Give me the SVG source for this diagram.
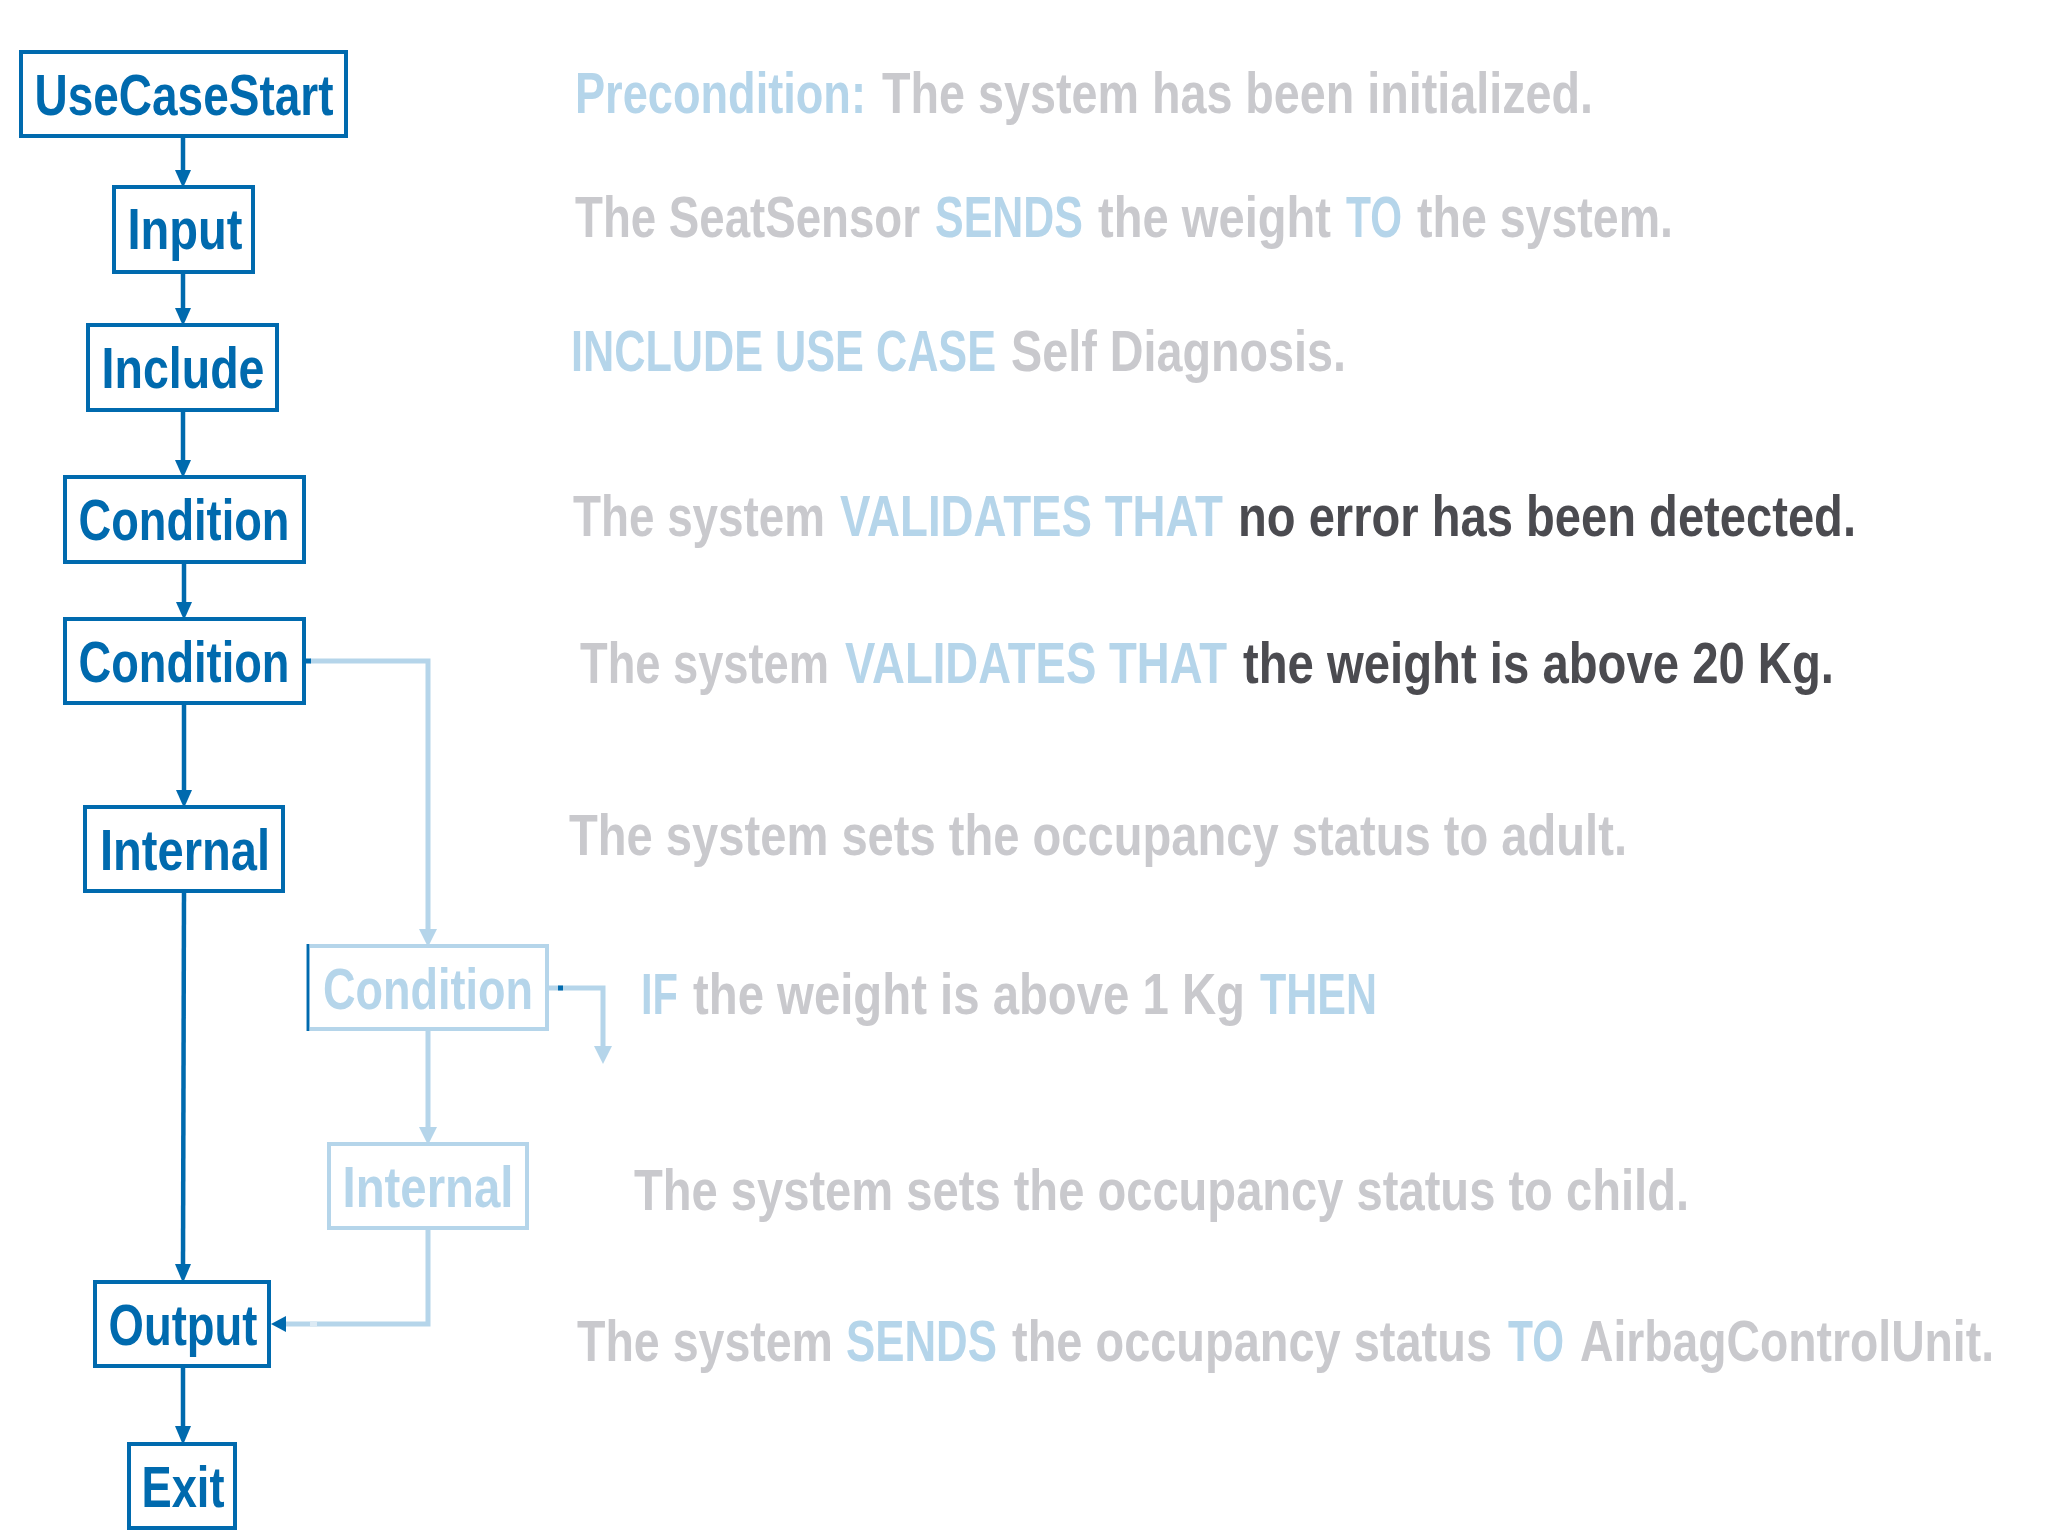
<svg xmlns="http://www.w3.org/2000/svg" width="2048" height="1536" viewBox="0 0 2048 1536">
<style>
text{font-family:"Liberation Sans",Arial,sans-serif;font-weight:bold;font-size:40px}
.nd rect{fill:#fff;stroke:#006aae;stroke-width:4}
.nd text{fill:#006aae;text-anchor:middle}
.lt rect{fill:#fff;stroke:#b5d5ea;stroke-width:4}
.lt text{fill:#b5d5ea;text-anchor:middle}
.dk{stroke:#006aae;stroke-width:4.5;fill:none}
.lc{stroke:#b5d5ea;stroke-width:5;fill:none}
.ah{fill:#006aae}
.lh{fill:#b5d5ea}
.g{fill:#c9c9cd}
.b{fill:#b5d5ea}
.k{fill:#4b4b50}
</style>
<rect width="2048" height="1536" fill="#fff"/>
<g id="connectors">
<path class="dk" d="M183 136V172"/><polygon class="ah" points="175,170 191,170 183,188"/>
<path class="dk" d="M183 272V310"/><polygon class="ah" points="175,308 191,308 183,326"/>
<path class="dk" d="M183 410V462"/><polygon class="ah" points="175,460 191,460 183,478"/>
<path class="dk" d="M184 562V604"/><polygon class="ah" points="176,602 192,602 184,620"/>
<path class="dk" d="M184 704V792"/><polygon class="ah" points="176,790 192,790 184,808"/>
<path class="dk" d="M184 891L183 1266"/><polygon class="ah" points="175,1264 191,1264 183,1283"/>
<path class="dk" d="M183 1366V1428"/><polygon class="ah" points="175,1426 191,1426 183,1445"/>
<path class="lc" d="M310 661H428V930"/><polygon class="lh" points="419,929 437,929 428,947"/>
<path d="M303 661H311" stroke="#006aae" stroke-width="5"/>
<path class="lc" d="M428 1030V1128"/><polygon class="lh" points="419,1127 437,1127 428,1145"/>
<path class="lc" d="M428 1228V1324H284"/>
<path d="M310 1324H317" stroke="#dceaf4" stroke-width="5"/>
<polygon class="ah" points="271,1324 286,1316 286,1332"/>
<path class="lc" d="M549 988H603V1047"/><polygon class="lh" points="594,1046 612,1046 603,1064"/>
<path d="M558 988H563" stroke="#006aae" stroke-width="5"/>
</g>
<g id="n_usecasestart" class="nd"><rect x="21" y="52" width="325" height="84"/><text transform="translate(184,115) scale(1,1.45)" textLength="299" lengthAdjust="spacingAndGlyphs">UseCaseStart</text></g>
<g id="n_input" class="nd"><rect x="114" y="187" width="139" height="85"/><text transform="translate(185,249) scale(1,1.45)" textLength="115" lengthAdjust="spacingAndGlyphs">Input</text></g>
<g id="n_include" class="nd"><rect x="88" y="325" width="189" height="85"/><text transform="translate(183,388) scale(1,1.45)" textLength="163" lengthAdjust="spacingAndGlyphs">Include</text></g>
<g id="n_condition1" class="nd"><rect x="65" y="477" width="239" height="85"/><text transform="translate(184,540) scale(1,1.45)" textLength="211" lengthAdjust="spacingAndGlyphs">Condition</text></g>
<g id="n_condition2" class="nd"><rect x="65" y="619" width="239" height="84"/><text transform="translate(184,682) scale(1,1.45)" textLength="211" lengthAdjust="spacingAndGlyphs">Condition</text></g>
<g id="n_internal" class="nd"><rect x="85" y="807" width="198" height="84"/><text transform="translate(185,870) scale(1,1.45)" textLength="170" lengthAdjust="spacingAndGlyphs">Internal</text></g>
<g id="n_condition3" class="lt"><rect x="308" y="946" width="239" height="83"/><text transform="translate(428,1009) scale(1,1.45)" textLength="210" lengthAdjust="spacingAndGlyphs">Condition</text><path d="M308 944V1031" stroke="#006aae" stroke-width="2.5"/></g>
<g id="n_internal2" class="lt"><rect x="329" y="1144" width="198" height="84"/><text transform="translate(428,1207) scale(1,1.45)" textLength="171" lengthAdjust="spacingAndGlyphs">Internal</text></g>
<g id="n_output" class="nd"><rect x="95" y="1282" width="174" height="84"/><text transform="translate(183,1345) scale(1,1.45)" textLength="149" lengthAdjust="spacingAndGlyphs">Output</text></g>
<g id="n_exit" class="nd"><rect x="129" y="1444" width="106" height="84"/><text transform="translate(183,1507) scale(1,1.45)" textLength="83" lengthAdjust="spacingAndGlyphs">Exit</text></g>
<g id="descriptions">
<text class="b" transform="translate(575,113) scale(1,1.45)" textLength="291" lengthAdjust="spacingAndGlyphs">Precondition:</text>
<text class="g" transform="translate(882,113) scale(1,1.45)" textLength="711" lengthAdjust="spacingAndGlyphs">The system has been initialized.</text>

<text class="g" transform="translate(575,237) scale(1,1.45)" textLength="345" lengthAdjust="spacingAndGlyphs">The SeatSensor</text>
<text class="b" transform="translate(935,237) scale(1,1.45)" textLength="148" lengthAdjust="spacingAndGlyphs">SENDS</text>
<text class="g" transform="translate(1098,237) scale(1,1.45)" textLength="233" lengthAdjust="spacingAndGlyphs">the weight</text>
<text class="b" transform="translate(1346,237) scale(1,1.45)" textLength="56" lengthAdjust="spacingAndGlyphs">TO</text>
<text class="g" transform="translate(1417,237) scale(1,1.45)" textLength="256" lengthAdjust="spacingAndGlyphs">the system.</text>

<text class="b" transform="translate(571,371) scale(1,1.45)" textLength="425" lengthAdjust="spacingAndGlyphs">INCLUDE USE CASE</text>
<text class="g" transform="translate(1011,371) scale(1,1.45)" textLength="335" lengthAdjust="spacingAndGlyphs">Self Diagnosis.</text>

<text class="g" transform="translate(573,536) scale(1,1.45)" textLength="252" lengthAdjust="spacingAndGlyphs">The system</text>
<text class="b" transform="translate(840,536) scale(1,1.45)" textLength="383" lengthAdjust="spacingAndGlyphs">VALIDATES THAT</text>
<text class="k" transform="translate(1238,536) scale(1,1.45)" textLength="618" lengthAdjust="spacingAndGlyphs">no error has been detected.</text>

<text class="g" transform="translate(580,683) scale(1,1.45)" textLength="249" lengthAdjust="spacingAndGlyphs">The system</text>
<text class="b" transform="translate(845,683) scale(1,1.45)" textLength="382" lengthAdjust="spacingAndGlyphs">VALIDATES THAT</text>
<text class="k" transform="translate(1243,683) scale(1,1.45)" textLength="591" lengthAdjust="spacingAndGlyphs">the weight is above 20 Kg.</text>

<text class="g" transform="translate(569,855) scale(1,1.45)" textLength="1058" lengthAdjust="spacingAndGlyphs">The system sets the occupancy status to adult.</text>

<text class="b" transform="translate(641,1014) scale(1,1.45)" textLength="37" lengthAdjust="spacingAndGlyphs">IF</text>
<text class="g" transform="translate(693,1014) scale(1,1.45)" textLength="552" lengthAdjust="spacingAndGlyphs">the weight is above 1 Kg</text>
<text class="b" transform="translate(1260,1014) scale(1,1.45)" textLength="117" lengthAdjust="spacingAndGlyphs">THEN</text>

<text class="g" transform="translate(634,1210) scale(1,1.45)" textLength="1055" lengthAdjust="spacingAndGlyphs">The system sets the occupancy status to child.</text>

<text class="g" transform="translate(577,1361) scale(1,1.45)" textLength="256" lengthAdjust="spacingAndGlyphs">The system</text>
<text class="b" transform="translate(846,1361) scale(1,1.45)" textLength="151" lengthAdjust="spacingAndGlyphs">SENDS</text>
<text class="g" transform="translate(1012,1361) scale(1,1.45)" textLength="480" lengthAdjust="spacingAndGlyphs">the occupancy status</text>
<text class="b" transform="translate(1508,1361) scale(1,1.45)" textLength="56" lengthAdjust="spacingAndGlyphs">TO</text>
<text class="g" transform="translate(1580,1361) scale(1,1.45)" textLength="414" lengthAdjust="spacingAndGlyphs">AirbagControlUnit.</text>
</g>
</svg>
